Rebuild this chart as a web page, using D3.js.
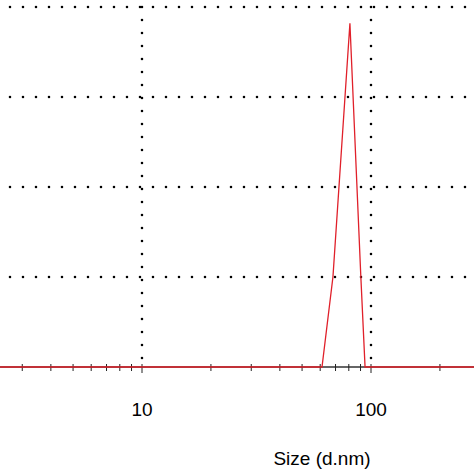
<html>
<head>
<script src="https://d3js.org/d3.v7.min.js"></script>
<style>
body { margin:0; background:#fff; }
</style>
</head>
<body>
<svg width="474" height="474"></svg>
<script>
// size distribution
var sizes = [2.4, 10, 50, 61.1, 68.2, 80.9, 90.3, 94.2, 150, 282];
var intensity = [0, 0, 0, 0, 5, 19.1, 5, 0, 0, 0];
var majorTicks = [10, 100];
var minorTicks = [3,4,5,6,7,8,9,20,30,40,50,60,70,80,90,200];
var gridY = [5, 10, 15, 20];

var svg = d3.select("svg");
var x = d3.scaleLog().domain([10, 100]).range([142, 371]);
var y = d3.scaleLinear().domain([0, 20]).range([367, 7]);

function dotted(x1, y1, x2, y2) {
  svg.append("line").attr("x1", x1).attr("y1", y1).attr("x2", x2).attr("y2", y2)
    .attr("stroke", "#000").attr("stroke-width", 2.6)
    .attr("stroke-dasharray", "0 13").attr("stroke-linecap", "round");
}
gridY.forEach(function (v) { dotted(10, y(v), 474, y(v)); });
majorTicks.forEach(function (v) { dotted(x(v), 7, x(v), 367); });

// axis
svg.append("line").attr("x1", 0).attr("x2", 474).attr("y1", 367).attr("y2", 367)
  .attr("stroke", "#333").attr("stroke-width", 1.5);
svg.selectAll(".tk").data(minorTicks.concat(majorTicks)).enter().append("line")
  .attr("x1", function (d) { return x(d); }).attr("x2", function (d) { return x(d); })
  .attr("y1", 364).attr("y2", function (d) { return majorTicks.indexOf(d) >= 0 ? 373 : 371; })
  .attr("stroke", "#222").attr("stroke-width", 1);

svg.selectAll(".lbl").data(majorTicks).enter().append("text")
  .attr("x", function (d) { return x(d); }).attr("y", 416)
  .attr("text-anchor", "middle").attr("font-family", "Liberation Sans, Arial")
  .attr("font-size", 19).text(function (d) { return d; });

svg.append("text").attr("x", 322).attr("y", 465).attr("text-anchor", "middle")
  .attr("font-family", "Liberation Sans, Arial").attr("font-size", 19).text("Size (d.nm)");

var line = d3.line().x(function (d, i) { return x(sizes[i]); }).y(function (d) { return y(d); });
svg.append("path").datum(intensity).attr("d", line)
  .attr("fill", "none").attr("stroke", "#e0202a").attr("stroke-width", 1.3);
</script>
</body>
</html>
